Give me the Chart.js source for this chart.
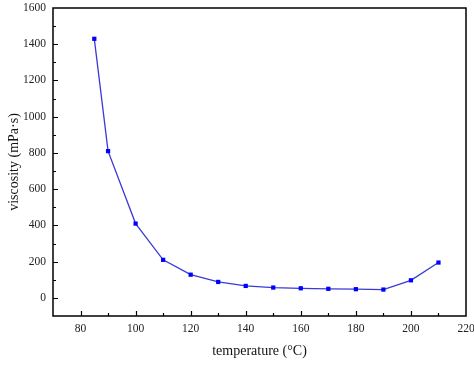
<!DOCTYPE html>
<html>
<head>
<meta charset="utf-8">
<script src="https://cdn.jsdelivr.net/npm/chart.js@4/dist/chart.umd.min.js"></script>
<style>
  html, body { margin: 0; padding: 0; background: #fff; }
  canvas { display: block; }
</style>
</head>
<body>
<canvas id="chart_viscosity" width="474" height="377"></canvas>
<script>
const temperatures = [85, 90, 100, 110, 120, 130, 140, 150, 160, 170, 180, 190, 200, 210]
const viscosity = [1430, 810, 410, 210, 128, 88, 66, 57, 53, 50, 48, 46, 97, 195]

const xTitle = "temperature (\u00B0C)"
const yTitle = "viscosity (mPa\u00B7s)"

const serif = "'Liberation Serif', 'Times New Roman', serif"

// frame + inward ticks like the original plot
const framePlugin = {
  id: 'frame',
  afterDraw(chart) {
    const ctx = chart.ctx
    const a = chart.chartArea
    const x = chart.scales.x, y = chart.scales.y
    ctx.save()
    ctx.strokeStyle = '#000'
    ctx.lineWidth = 1.5
    ctx.strokeRect(a.left, a.top, a.right - a.left, a.bottom - a.top)

    ctx.lineWidth = 1.2
    ctx.beginPath()
    for (let v = 80; v <= 210; v += 10) {
      const px = Math.round(x.getPixelForValue(v)) + 0.5
      const len = v % 20 == 0 ? 5 : 3
      ctx.moveTo(px, a.bottom)
      ctx.lineTo(px, a.bottom - len)
    }
    for (let v = 0; v <= 1500; v += 100) {
      const py = Math.round(y.getPixelForValue(v)) + 0.5
      const len = v % 200 == 0 ? 5 : 3
      ctx.moveTo(a.left, py)
      ctx.lineTo(a.left + len, py)
    }
    ctx.stroke()
    ctx.restore()
  }
}

new Chart(document.getElementById('chart_viscosity').getContext('2d'), {
  type: 'line',
  data: {
    datasets: [{
      data: temperatures.map((t, i) => ({ x: t, y: viscosity[i] })),
      borderColor: '#3a3ad6',
      borderWidth: 1.3,
      pointStyle: 'rect',
      pointRadius: 3,
      pointBackgroundColor: '#0000ff',
      pointBorderColor: '#0000ff',
      pointBorderWidth: 0,
      tension: 0
    }]
  },
  options: {
    responsive: false,
    animation: false,
    devicePixelRatio: 1,
    layout: { padding: { top: 8, right: 8, left: 0, bottom: 0 } },
    plugins: { legend: { display: false }, tooltip: { enabled: false } },
    scales: {
      x: {
        type: 'linear',
        min: 70,
        max: 220,
        grid: { display: false, drawTicks: false },
        border: { display: false },
        ticks: {
          stepSize: 10,
          autoSkip: false,
          maxRotation: 0,
          padding: 6,
          color: '#222',
          font: { family: serif, size: 11.5 },
          callback: v => (v % 20 == 0 && v >= 80) ? String(v) : ''
        },
        title: {
          display: true,
          text: xTitle,
          color: '#111',
          font: { family: serif, size: 14 },
          padding: { top: 0, bottom: 17 }
        },
        afterFit(scale) {
          scale.height = 61
          scale.paddingLeft = 0
          scale.paddingRight = 0
        }
      },
      y: {
        min: -100,
        max: 1600,
        grid: { display: false, drawTicks: false },
        border: { display: false },
        ticks: {
          stepSize: 100,
          autoSkip: false,
          padding: 7,
          color: '#222',
          font: { family: serif, size: 11.5 },
          callback: v => (v % 200 == 0 && v >= 0) ? String(v) : ''
        },
        title: {
          display: true,
          text: yTitle,
          color: '#111',
          font: { family: serif, size: 14 },
          padding: { top: 6, bottom: 0 }
        },
        afterFit(scale) {
          scale.width = 53
          scale.paddingTop = 0
          scale.paddingBottom = 0
        }
      }
    }
  },
  plugins: [framePlugin]
})
</script>
</body>
</html>
